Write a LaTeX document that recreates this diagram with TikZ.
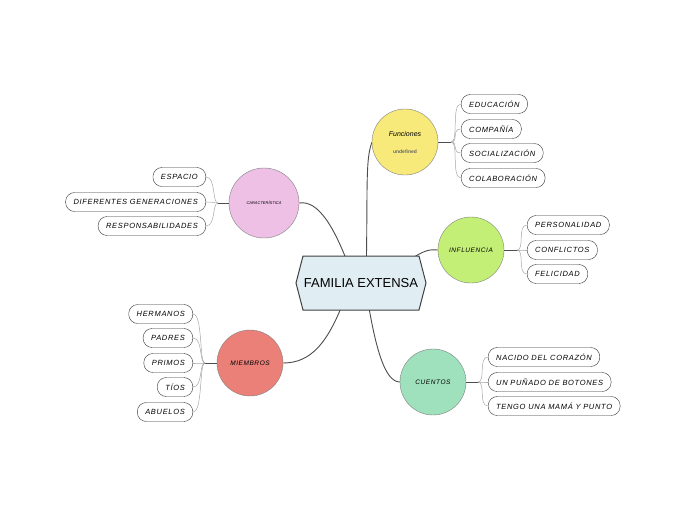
\documentclass[tikz,border=0pt]{standalone}
\usepackage{fontspec}
\usetikzlibrary{calc}
\setmainfont{Liberation Sans}
\newfontfamily\leaffont[LetterSpace=9]{Liberation Sans}
\definecolor{cy}{HTML}{F7EA7A}
\definecolor{cp}{HTML}{EFC0E6}
\definecolor{cg}{HTML}{C4EF76}
\definecolor{cr}{HTML}{EA8078}
\definecolor{cm}{HTML}{9FE0BD}
\definecolor{cc}{HTML}{E0EEF3}
\begin{document}
\begin{tikzpicture}[x=1pt,y=-1pt,
 leaf/.style={draw=black!80,fill=white,rounded corners=9pt,minimum height=19pt,inner xsep=8pt,font=\leaffont\itshape\fontsize{7.5}{8}\selectfont},
 topic/.style={circle,draw=black!50,minimum size=66pt,inner sep=0pt,font=\leaffont\itshape\fontsize{6.5}{8}\selectfont},
 conn/.style={draw=black!70,line width=0.9pt},
 br/.style={draw=black!35,line width=0.5pt}]
\useasboundingbox (0,0) rectangle (697,520);
\coordinate (c) at (361,283);
\draw[conn] (366,283) .. controls (368,190) and (365,160) .. (372,142);
\draw[conn] (355,283) .. controls (335,225) and (318,200) .. (299,203);
\draw[conn] (380,283) .. controls (425,245) and (430,250) .. (438,250);
\draw[conn] (350,283) .. controls (330,345) and (310,363) .. (283,363);
\draw[conn] (365,283) .. controls (375,350) and (385,382) .. (400,382);
\fill[cc,draw=black!75,line width=1pt] (303,256)--(419,256)--(426,283)--(419,310)--(303,310)--(296,283)--cycle;
\node[font=\fontsize{13}{14}\selectfont] at (c) {FAMILIA EXTENSA};
\node[topic,fill=cy] (f) at (405,142) {};
\node[font=\itshape\fontsize{7}{8}\selectfont] at (405,134) {Funciones};
\node[font=\bfseries\fontsize{5}{6}\selectfont,text=black!60] at (405,152) {undefined};
\node[topic,fill=cp,minimum size=70pt,font=\itshape\fontsize{4}{5}\selectfont] (k) at (264,203) {CARACTERÍSTICA};
\node[topic,fill=cg] (i) at (471,250) {INFLUENCIA};
\node[topic,fill=cr] (m) at (250,363) {MIEMBROS};
\node[topic,fill=cm] (u) at (433,382) {CUENTOS};
\coordinate (jf) at (451,142); \coordinate (ji) at (517,250);
\coordinate (ju) at (478,382); \coordinate (jk) at (218,203); \coordinate (jm) at (205,363);
\draw[conn] (f.east)--(jf); \draw[conn] (i.east)--(ji); \draw[conn] (u.east)--(ju);
\draw[conn] (k.west)--(jk); \draw[conn] (m.west)--(jm);
\foreach \n/\t/\y in {e1/EDUCACIÓN/104,e2/COMPAÑÍA/129,e3/SOCIALIZACIÓN/153,e4/COLABORACIÓN/178}
  {\node[leaf,anchor=west] (\n) at (461,\y) {\t};
   \draw[br] (jf) .. controls ($(jf)+(8,0)$) and ($(\n.west)+(-10,0)$) .. (\n.west);}
\foreach \n/\t/\y in {p1/PERSONALIDAD/225,p2/CONFLICTOS/250,p3/FELICIDAD/274}
  {\node[leaf,anchor=west] (\n) at (527,\y) {\t};
   \draw[br] (ji) .. controls ($(ji)+(8,0)$) and ($(\n.west)+(-10,0)$) .. (\n.west);}
\foreach \n/\t/\y in {q1/NACIDO DEL CORAZÓN/357,q2/UN PUÑADO DE BOTONES/382,q3/TENGO UNA MAMÁ Y PUNTO/406}
  {\node[leaf,anchor=west] (\n) at (488,\y) {\t};
   \draw[br] (ju) .. controls ($(ju)+(8,0)$) and ($(\n.west)+(-10,0)$) .. (\n.west);}
\foreach \n/\t/\y in {r1/ESPACIO/177,r2/DIFERENTES GENERACIONES/202,r3/RESPONSABILIDADES/226}
  {\node[leaf,anchor=east] (\n) at (206,\y) {\t};
   \draw[br] (jk) .. controls ($(jk)+(-6,0)$) and ($(\n.east)+(10,0)$) .. (\n.east);}
\foreach \n/\t/\y in {s1/HERMANOS/314,s2/PADRES/338,s3/PRIMOS/363,s4/TÍOS/387,s5/ABUELOS/412}
  {\node[leaf,anchor=east] (\n) at (193,\y) {\t};
   \draw[br] (jm) .. controls ($(jm)+(-6,0)$) and ($(\n.east)+(10,0)$) .. (\n.east);}
\end{tikzpicture}
\end{document}
